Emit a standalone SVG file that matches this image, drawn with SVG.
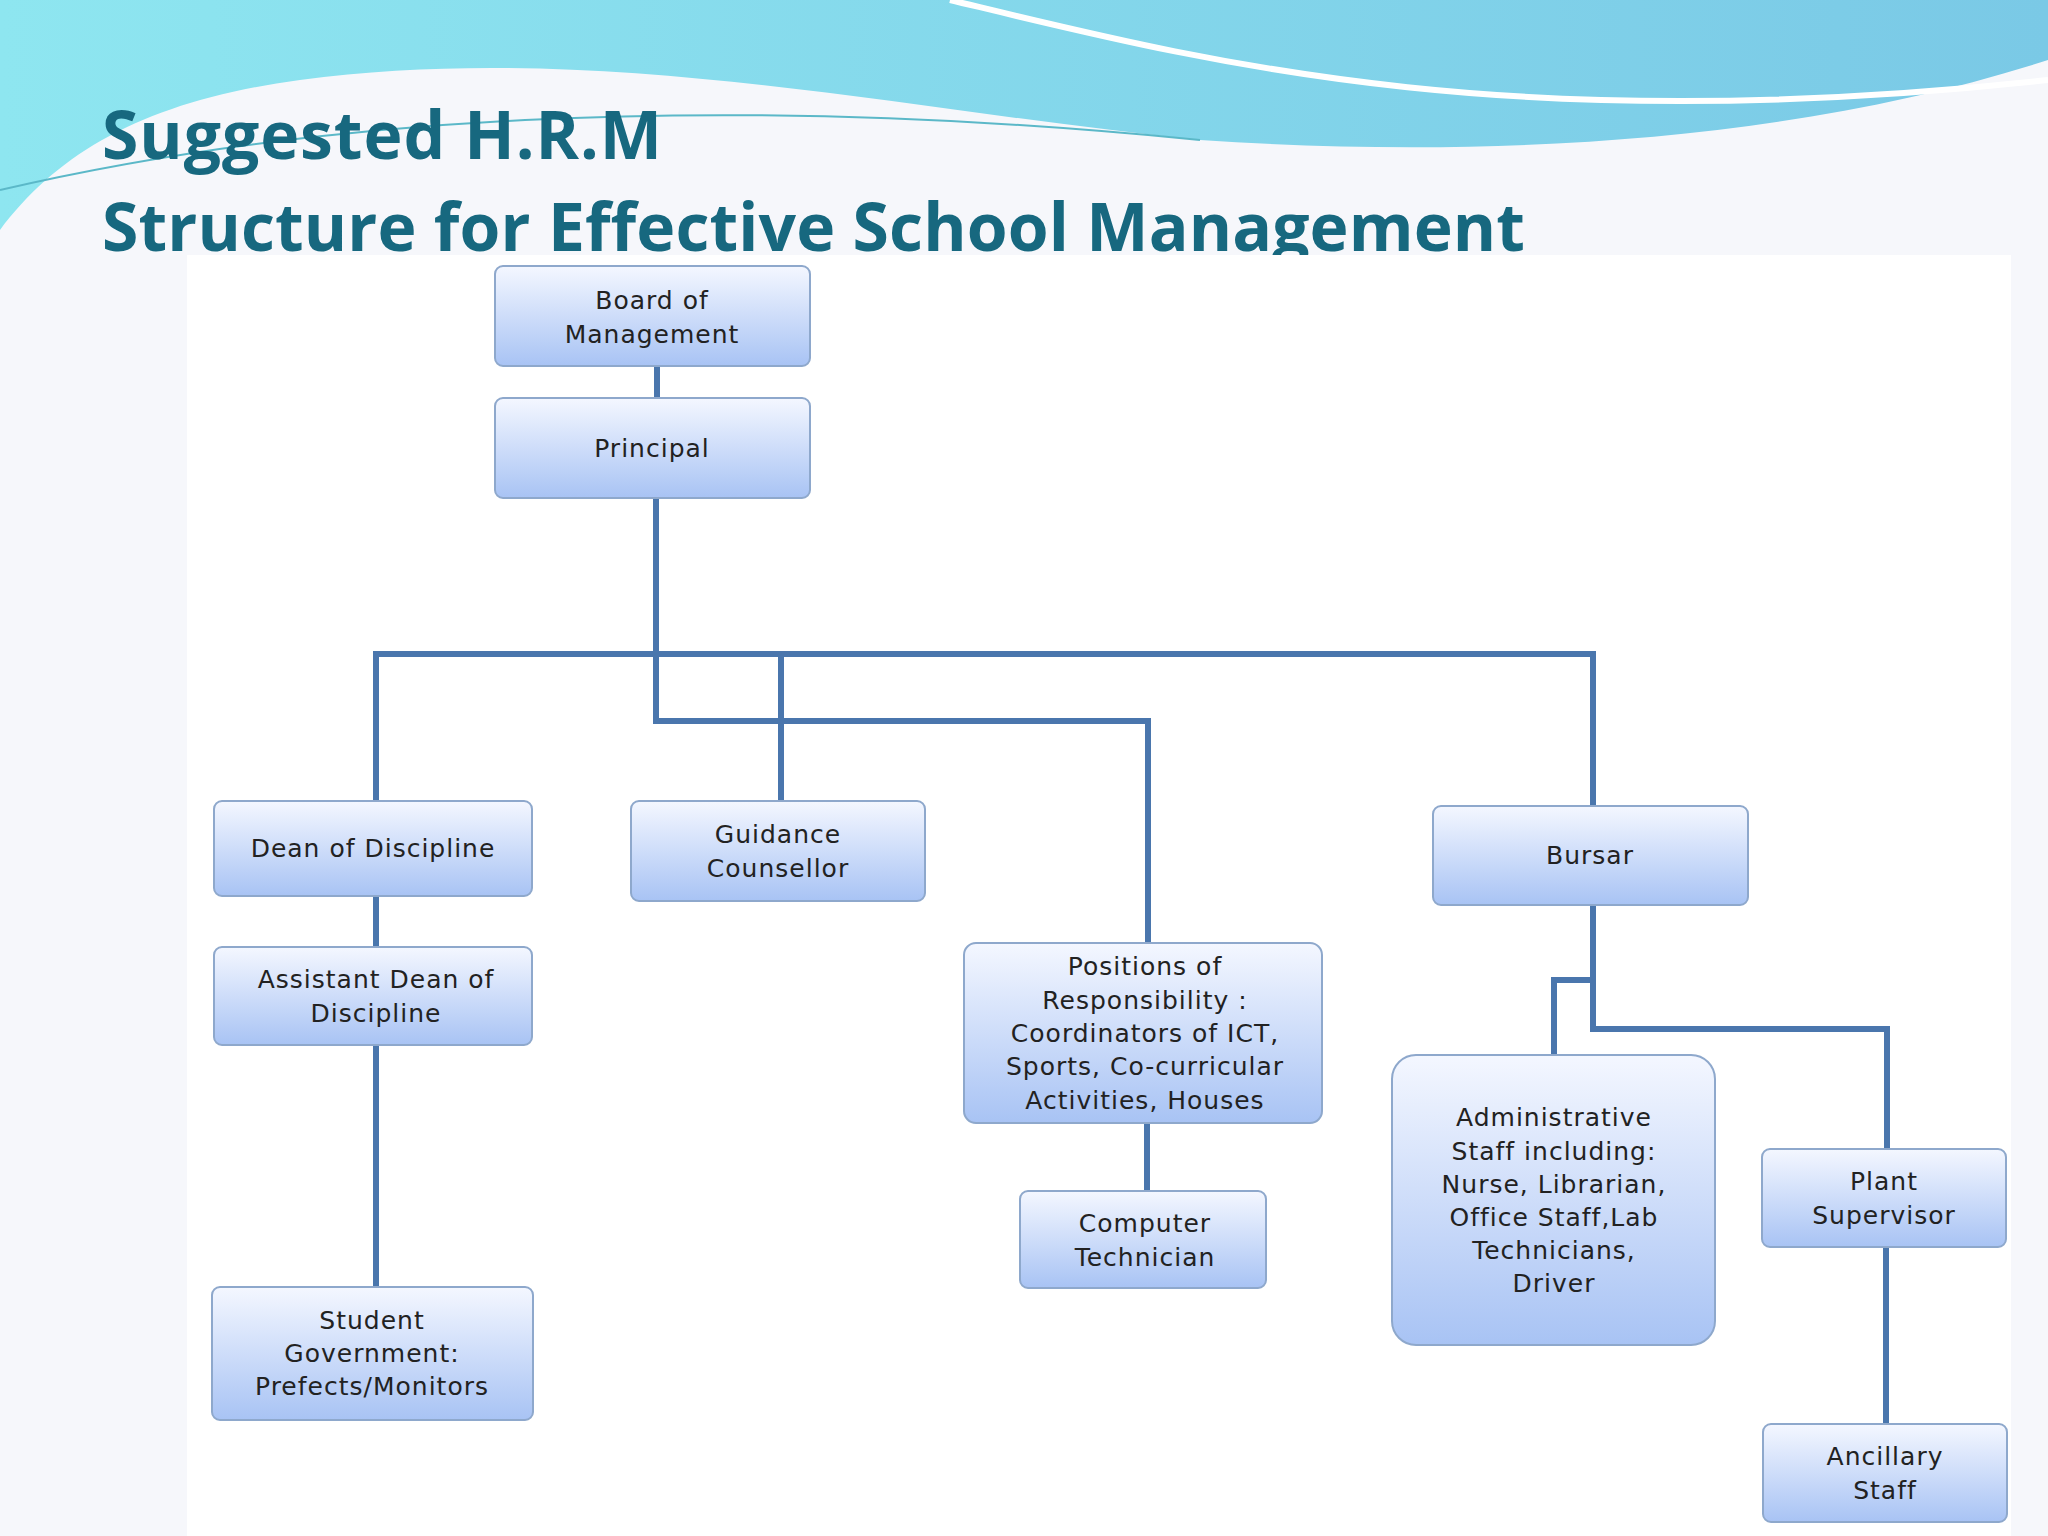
<svg xmlns="http://www.w3.org/2000/svg" width="2048" height="1536" viewBox="0 0 2048 1536">
<defs>
<linearGradient id="g" x1="0" y1="0" x2="0" y2="1"><stop offset="0" stop-color="#f4f7ff"/><stop offset="1" stop-color="#a8c3f4"/></linearGradient>
<linearGradient id="w" x1="0" y1="0" x2="1" y2="0"><stop offset="0" stop-color="#8ee6f0"/><stop offset="1" stop-color="#7ac9e6"/></linearGradient>
<style>
.n{fill:url(#g);stroke:#8ea8cc;stroke-width:2}
.t{font-family:"DejaVu Sans",sans-serif;font-size:25px;fill:#222;text-anchor:middle;letter-spacing:1px}
.c{fill:none;stroke:#4a76ad;stroke-width:6}
.h{font-family:"Open Sans","DejaVu Sans",sans-serif;font-weight:bold;font-size:66px;fill:#17687f}
</style>
</defs>
<rect width="2048" height="1536" fill="#f6f7fb"/>
<path d="M0 0H2048V60C1800 140 1500 160 1200 140C900 110 600 40 300 80C150 100 60 150 0 230Z" fill="url(#w)"/>
<path d="M950 0C1200 60 1500 140 2048 80" fill="none" stroke="#ffffff" stroke-width="6"/>
<path d="M0 190C300 120 700 90 1200 140" fill="none" stroke="#5bb8c8" stroke-width="2"/>
<text class="h" x="102" y="159" textLength="560">Suggested H.R.M</text>
<text class="h" x="102" y="251" textLength="1423">Structure for Effective School Management</text>
<rect x="187" y="255" width="1824" height="1281" fill="#ffffff"/>
<g id="connectors">
<path class="c" d="M657 366V398M656 498V721H1148V943M376 801V654H1593V806M656 654H781V801M376 896V947M376 1045V1287M1147 1123V1191M1593 905V1029H1887V1149M1593 980H1554V1055M1886 1247V1424"/>
</g>
<g id="board"><rect class="n" x="495" y="266" width="315" height="100" rx="8"/><text class="t" x="652" y="309">Board of</text><text class="t" x="652" y="343">Management</text></g>
<g id="principal"><rect class="n" x="495" y="398" width="315" height="100" rx="8"/><text class="t" x="652" y="457">Principal</text></g>
<g id="dean"><rect class="n" x="214" y="801" width="318" height="95" rx="8"/><text class="t" x="373" y="857">Dean of Discipline</text></g>
<g id="guidance"><rect class="n" x="631" y="801" width="294" height="100" rx="8"/><text class="t" x="778" y="843">Guidance</text><text class="t" x="778" y="877">Counsellor</text></g>
<g id="bursar"><rect class="n" x="1433" y="806" width="315" height="99" rx="8"/><text class="t" x="1590" y="864">Bursar</text></g>
<g id="asstdean"><rect class="n" x="214" y="947" width="318" height="98" rx="8"/><text class="t" x="376" y="988">Assistant Dean of</text><text class="t" x="376" y="1022">Discipline</text></g>
<g id="positions"><rect class="n" x="964" y="943" width="358" height="180" rx="12"/><text class="t" x="1145" y="975">Positions of</text><text class="t" x="1145" y="1009">Responsibility :</text><text class="t" x="1145" y="1042">Coordinators of ICT,</text><text class="t" x="1145" y="1075">Sports, Co-curricular</text><text class="t" x="1145" y="1109">Activities, Houses</text></g>
<g id="computer"><rect class="n" x="1020" y="1191" width="246" height="97" rx="8"/><text class="t" x="1145" y="1232">Computer</text><text class="t" x="1145" y="1266">Technician</text></g>
<g id="admin"><rect class="n" x="1392" y="1055" width="323" height="290" rx="24"/><text class="t" x="1554" y="1126">Administrative</text><text class="t" x="1554" y="1160">Staff including:</text><text class="t" x="1554" y="1193">Nurse, Librarian,</text><text class="t" x="1554" y="1226">Office Staff,Lab</text><text class="t" x="1554" y="1259">Technicians,</text><text class="t" x="1554" y="1292">Driver</text></g>
<g id="plant"><rect class="n" x="1762" y="1149" width="244" height="98" rx="8"/><text class="t" x="1884" y="1190">Plant</text><text class="t" x="1884" y="1224">Supervisor</text></g>
<g id="ancillary"><rect class="n" x="1763" y="1424" width="244" height="98" rx="8"/><text class="t" x="1885" y="1465">Ancillary</text><text class="t" x="1885" y="1499">Staff</text></g>
<g id="student"><rect class="n" x="212" y="1287" width="321" height="133" rx="8"/><text class="t" x="372" y="1329">Student</text><text class="t" x="372" y="1362">Government:</text><text class="t" x="372" y="1395">Prefects/Monitors</text></g>
</svg>
